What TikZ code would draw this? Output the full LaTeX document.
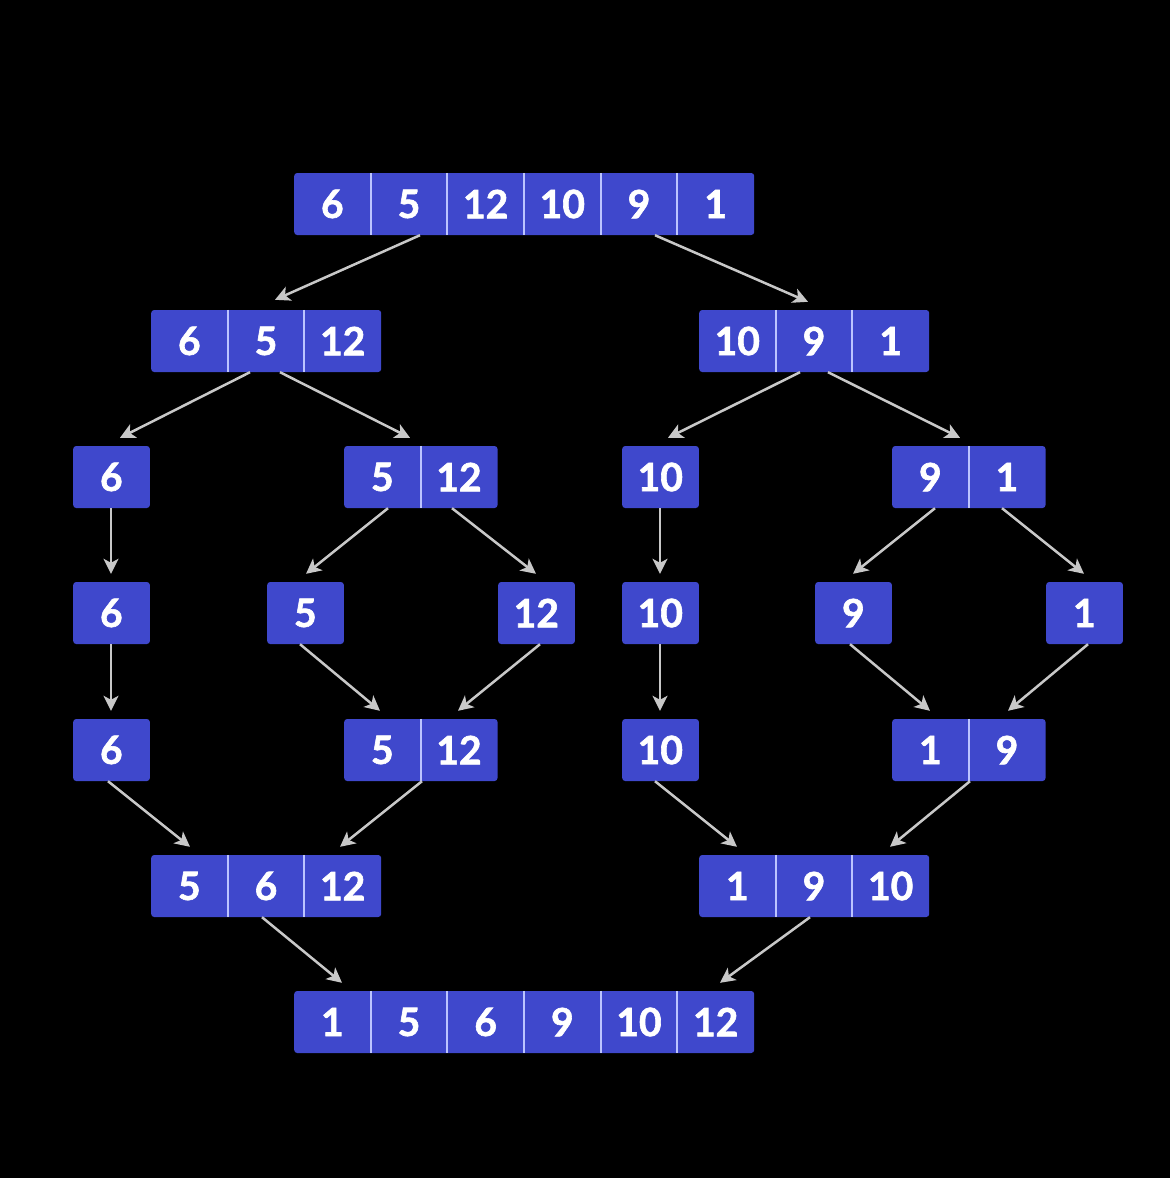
\documentclass[tikz,border=0pt]{standalone}
\usepackage{fontspec}
\setmainfont{Lato}[BoldFeatures={FakeBold=1.6}]
\usetikzlibrary{arrows.meta,calc}
\definecolor{boxblue}{HTML}{3F48CC}
\definecolor{divcol}{HTML}{BCC4FF}
\definecolor{arrcol}{HTML}{C8C8C8}
\tikzset{
  arraybox/.style={fill=boxblue, rounded corners=3pt, minimum height=62pt, inner sep=0pt, anchor=west},
  celltext/.style={text=white, font=\fontsize{39}{44}\selectfont\bfseries, inner sep=0pt},
  divider/.style={draw=divcol, line width=1.8pt},
  conn/.style={draw=arrcol, line width=2.5pt, -{Stealth[length=15pt,width=15pt,inset=4pt]}}
}
% #1 name, #2 left x, #3 center y, #4 cell count, #5 values
\newcommand{\cellarray}[5]{%
  \node[arraybox, minimum width=#4*76.67pt] (#1) at (#2,#3) {};
  \foreach \v [count=\i] in {#5} {
    \node[celltext] (#1-\i) at ($(#1.west)+(\i*76.67-38.33,0)$) {\v};
  }
  \ifnum#4>1
    \foreach \j in {2,...,#4} {
      \draw[divider] ($(#1.north west)+(\j*76.67-76.67,0)$) -- ($(#1.south west)+(\j*76.67-76.67,0)$);
    }
  \fi
}
\begin{document}
\begin{tikzpicture}[x=1pt,y=1pt]
\fill[black] (0,0) rectangle (1170,-1178);
\useasboundingbox (0,0) rectangle (1170,-1178);
% row 1
\cellarray{top}{294}{-204}{6}{6,5,12,10,9,1}
% row 2
\cellarray{l1}{151}{-341}{3}{6,5,12}
\cellarray{r1}{699}{-341}{3}{10,9,1}
% row 3
\cellarray{l2a}{73}{-477}{1}{6}
\cellarray{l2b}{344}{-477}{2}{5,12}
\cellarray{r2a}{622}{-477}{1}{10}
\cellarray{r2b}{892}{-477}{2}{9,1}
% row 4
\cellarray{l3a}{73}{-613}{1}{6}
\cellarray{l3b}{267}{-613}{1}{5}
\cellarray{l3c}{498}{-613}{1}{12}
\cellarray{r3a}{622}{-613}{1}{10}
\cellarray{r3b}{815}{-613}{1}{9}
\cellarray{r3c}{1046}{-613}{1}{1}
% row 5
\cellarray{l4a}{73}{-750}{1}{6}
\cellarray{l4b}{344}{-750}{2}{5,12}
\cellarray{r4a}{622}{-750}{1}{10}
\cellarray{r4b}{892}{-750}{2}{1,9}
% row 6
\cellarray{l5}{151}{-886}{3}{5,6,12}
\cellarray{r5}{699}{-886}{3}{1,9,10}
% row 7
\cellarray{bot}{294}{-1022}{6}{1,5,6,9,10,12}
% connectors
\draw[conn] ($(top.south west)+(126,0)$) -- ($(l1.north west)+(124,10)$);
\draw[conn] ($(top.south west)+(361,0)$) -- ($(r1.north west)+(109,8)$);
\draw[conn] ($(l1.south west)+(99,0)$) -- ($(l2a.north west)+(47,8)$);
\draw[conn] ($(l1.south west)+(129,0)$) -- ($(l2b.north west)+(66,8)$);
\draw[conn] ($(r1.south west)+(101,0)$) -- ($(r2a.north west)+(46,8)$);
\draw[conn] ($(r1.south west)+(129,0)$) -- ($(r2b.north west)+(68,8)$);
\draw[conn] ($(l2a.south west)+(38,0)$) -- ($(l3a.north west)+(38,8)$);
\draw[conn] ($(l2b.south west)+(44,0)$) -- ($(l3b.north west)+(39,8)$);
\draw[conn] ($(l2b.south west)+(108,0)$) -- ($(l3c.north west)+(38,8)$);
\draw[conn] ($(r2a.south west)+(38,0)$) -- ($(r3a.north west)+(38,8)$);
\draw[conn] ($(r2b.south west)+(43,0)$) -- ($(r3b.north west)+(38,8)$);
\draw[conn] ($(r2b.south west)+(110,0)$) -- ($(r3c.north west)+(38,8)$);
\draw[conn] ($(l3a.south west)+(38,0)$) -- ($(l4a.north west)+(38,8)$);
\draw[conn] ($(l3b.south west)+(33,0)$) -- ($(l4b.north west)+(36,8)$);
\draw[conn] ($(l3c.south west)+(42,0)$) -- ($(l4b.north west)+(114,8)$);
\draw[conn] ($(r3a.south west)+(38,0)$) -- ($(r4a.north west)+(38,8)$);
\draw[conn] ($(r3b.south west)+(35,0)$) -- ($(r4b.north west)+(38,8)$);
\draw[conn] ($(r3c.south west)+(42,0)$) -- ($(r4b.north west)+(116,8)$);
\draw[conn] ($(l4a.south west)+(35,0)$) -- ($(l5.north west)+(39,8)$);
\draw[conn] ($(l4b.south west)+(78,0)$) -- ($(l5.north west)+(189,8)$);
\draw[conn] ($(r4a.south west)+(33,0)$) -- ($(r5.north west)+(38,8)$);
\draw[conn] ($(r4b.south west)+(78,0)$) -- ($(r5.north west)+(191,8)$);
\draw[conn] ($(l5.south west)+(111,0)$) -- ($(bot.north west)+(48,8)$);
\draw[conn] ($(r5.south west)+(111,0)$) -- ($(bot.north west)+(426,8)$);
\end{tikzpicture}
\end{document}
